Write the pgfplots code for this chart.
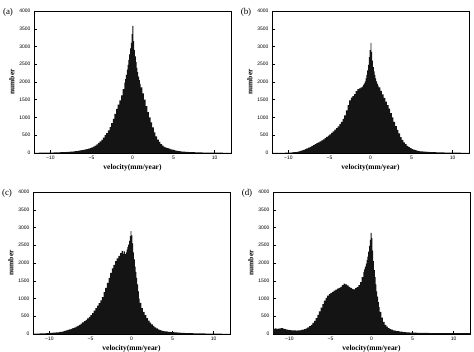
\documentclass[border=0pt]{standalone}
\usepackage{fontspec}
\setmainfont{Liberation Serif}
\setsansfont{Liberation Sans}
\usepackage{pgfplots}
\pgfplotsset{compat=1.18}
\pgfplotsset{hist/.style={
  width=197bp, height=142bp, scale only axis, clip=false,
  xmin=-12, xmax=12, ymin=0, ymax=4000,
  xtick={-10,-5,0,5,10}, xticklabels={−10,−5,0,5,10},
  ytick={0,500,...,4000},
  /pgf/number format/assume math mode=true,
  /pgf/number format/1000 sep={},
  tick align=inside, tick pos=left, major tick length=2.5bp,
  tick style={black, line width=0.5pt},
  axis line style={black, line width=0.9pt},
  tick label style={font=\fontsize{5}{5}\selectfont\sffamily},
  xlabel={velocity(mm/year)}, ylabel={number},
  label style={font=\fontsize{7.5}{8}\selectfont\bfseries},
  xlabel style={yshift=3bp},
  ylabel style={yshift=-2bp},
}}
\tikzset{hbar/.style={const plot, fill=black!92, draw=none, mark=none}}
\begin{document}
\begin{tikzpicture}
\useasboundingbox (0,0) rectangle (474bp,352bp);
% (a)
\begin{axis}[hist, at={(34bp,199bp)}, anchor=south west]
\addplot[hbar] coordinates {(-12,5) (-11.8,6) (-11.6,6) (-11.4,7) (-11.2,8) (-11,8) (-10.8,9) (-10.6,10) (-10.4,11) (-10.2,11) (-10,12) (-9.8,13) (-9.6,15) (-9.4,16) (-9.2,18) (-9,20) (-8.8,22) (-8.6,24) (-8.4,26) (-8.2,28) (-8,30) (-7.8,34) (-7.6,38) (-7.4,42) (-7.2,46) (-7,50) (-6.8,56) (-6.6,64) (-6.4,72) (-6.2,80) (-6,90) (-5.8,100) (-5.6,112) (-5.4,125) (-5.2,140) (-5,160) (-4.8,180) (-4.6,210) (-4.4,245) (-4.2,285) (-4,330) (-3.8,370) (-3.6,430) (-3.4,500) (-3.2,560) (-3,640) (-2.8,730) (-2.6,840) (-2.4,960) (-2.2,1100) (-2,1240) (-1.8,1360) (-1.6,1480) (-1.4,1620) (-1.2,1800) (-1.0,1980) (-0.9,2080) (-0.8,2200) (-0.7,2350) (-0.6,2480) (-0.5,2620) (-0.4,2780) (-0.3,2950) (-0.2,3100) (-0.1,3350) (0,3580) (0.1,3150) (0.2,2900) (0.3,2720) (0.4,2560) (0.5,2400) (0.6,2280) (0.7,2150) (0.8,2050) (0.9,1950) (1.0,1850) (1.2,1680) (1.4,1500) (1.6,1320) (1.8,1150) (2.0,1000) (2.2,860) (2.4,720) (2.6,580) (2.8,470) (3.0,380) (3.2,310) (3.4,250) (3.6,210) (3.8,175) (4.0,150) (4.2,135) (4.4,120) (4.6,105) (4.8,92) (5.0,80) (5.2,70) (5.4,60) (5.6,52) (5.8,46) (6.0,40) (6.4,34) (6.8,28) (7.2,24) (7.6,20) (8,16) (8.5,14) (9,12) (9.5,10) (10,8) (10.5,7) (11,6) (11.5,5) (12,4)} \closedcycle;
\node[font=\fontsize{9}{10}\selectfont] at (rel axis cs:0,1) [xshift=-26bp, yshift=-1bp] {(a)};
\end{axis}
% (b)
\begin{axis}[hist, at={(272bp,199bp)}, anchor=south west]
\addplot[hbar] coordinates {(-12,3) (-11.6,4) (-11.2,5) (-10.8,6) (-10.4,8) (-10,10) (-9.8,14) (-9.6,18) (-9.4,22) (-9.2,28) (-9,35) (-8.8,45) (-8.6,58) (-8.4,72) (-8.2,90) (-8,110) (-7.8,130) (-7.6,150) (-7.4,175) (-7.2,200) (-7,225) (-6.8,250) (-6.6,275) (-6.4,300) (-6.2,330) (-6,355) (-5.8,385) (-5.6,420) (-5.4,455) (-5.2,490) (-5,525) (-4.8,565) (-4.6,610) (-4.4,655) (-4.2,700) (-4,750) (-3.8,810) (-3.6,880) (-3.4,960) (-3.2,1060) (-3,1200) (-2.8,1350) (-2.6,1480) (-2.4,1560) (-2.2,1600) (-2,1660) (-1.8,1740) (-1.6,1800) (-1.4,1820) (-1.2,1850) (-1.0,1880) (-0.9,1920) (-0.8,1960) (-0.7,2020) (-0.6,2100) (-0.5,2200) (-0.4,2330) (-0.3,2480) (-0.2,2700) (-0.1,2900) (0,3100) (0.1,2850) (0.2,2600) (0.3,2420) (0.4,2300) (0.5,2200) (0.6,2100) (0.7,2020) (0.8,1950) (0.9,1900) (1.0,1850) (1.2,1750) (1.4,1650) (1.6,1550) (1.8,1450) (2.0,1350) (2.2,1250) (2.4,1120) (2.6,1000) (2.8,880) (3.0,760) (3.2,650) (3.4,550) (3.6,450) (3.8,370) (4.0,300) (4.2,250) (4.4,200) (4.6,165) (4.8,135) (5.0,110) (5.2,92) (5.4,78) (5.6,66) (5.8,56) (6.0,48) (6.4,40) (6.8,33) (7.2,28) (7.6,24) (8,20) (8.5,16) (9,13) (9.5,11) (10,9) (10.5,7) (11,6) (11.5,5) (12,4)} \closedcycle;
\node[font=\fontsize{9}{10}\selectfont] at (rel axis cs:0,1) [xshift=-26bp, yshift=-1bp] {(b)};
\end{axis}
% (c)
\begin{axis}[hist, at={(33bp,18bp)}, anchor=south west]
\addplot[hbar] coordinates {(-12,10) (-11.6,12) (-11.2,16) (-10.8,20) (-10.4,24) (-10,30) (-9.6,38) (-9.2,48) (-8.8,60) (-8.4,75) (-8.2,85) (-8,100) (-7.8,115) (-7.6,130) (-7.4,145) (-7.2,162) (-7,180) (-6.8,205) (-6.6,230) (-6.4,260) (-6.2,295) (-6,330) (-5.8,365) (-5.6,400) (-5.4,440) (-5.2,485) (-5,530) (-4.8,590) (-4.6,660) (-4.4,730) (-4.2,800) (-4,870) (-3.8,950) (-3.6,1040) (-3.4,1180) (-3.2,1300) (-3,1440) (-2.8,1580) (-2.6,1720) (-2.4,1850) (-2.2,1950) (-2,2050) (-1.8,2130) (-1.6,2200) (-1.4,2280) (-1.2,2340) (-1.0,2260) (-0.9,2330) (-0.8,2250) (-0.7,2300) (-0.6,2380) (-0.5,2450) (-0.4,2520) (-0.3,2620) (-0.2,2760) (-0.1,2900) (0,2780) (0.1,2550) (0.2,2300) (0.3,2100) (0.4,1900) (0.5,1750) (0.6,1580) (0.7,1400) (0.8,1200) (0.9,1000) (1.0,880) (1.2,730) (1.4,620) (1.6,530) (1.8,450) (2.0,380) (2.2,320) (2.4,270) (2.6,230) (2.8,190) (3.0,155) (3.2,130) (3.4,110) (3.6,95) (3.8,82) (4.0,72) (4.4,60) (4.8,50) (5.2,44) (5.6,38) (6,32) (6.5,27) (7,23) (7.5,20) (8,17) (9,13) (10,10) (11,7) (12,5)} \closedcycle;
\node[font=\fontsize{9}{10}\selectfont] at (rel axis cs:0,1) [xshift=-26bp, yshift=-1bp] {(c)};
\end{axis}
% (d)
\begin{axis}[hist, at={(273bp,18bp)}, anchor=south west]
\addplot[hbar] coordinates {(-12,140) (-11.8,155) (-11.6,145) (-11.4,150) (-11.2,160) (-11,165) (-10.8,150) (-10.6,135) (-10.4,125) (-10.2,115) (-10,110) (-9.8,105) (-9.6,100) (-9.4,100) (-9.2,98) (-9,100) (-8.8,105) (-8.6,115) (-8.4,125) (-8.2,140) (-8,160) (-7.8,190) (-7.6,220) (-7.4,260) (-7.2,310) (-7,370) (-6.8,450) (-6.6,540) (-6.4,640) (-6.2,740) (-6,840) (-5.8,940) (-5.6,1020) (-5.4,1080) (-5.2,1120) (-5,1160) (-4.8,1190) (-4.6,1220) (-4.4,1250) (-4.2,1280) (-4,1300) (-3.8,1330) (-3.6,1380) (-3.4,1420) (-3.2,1400) (-3,1370) (-2.8,1330) (-2.6,1300) (-2.4,1270) (-2.2,1260) (-2,1290) (-1.8,1320) (-1.6,1380) (-1.4,1460) (-1.2,1600) (-1.0,1750) (-0.9,1820) (-0.8,1900) (-0.7,1980) (-0.6,2080) (-0.5,2180) (-0.4,2320) (-0.3,2480) (-0.2,2650) (-0.1,2850) (0,2700) (0.1,2350) (0.2,2050) (0.3,1800) (0.4,1600) (0.5,1400) (0.6,1200) (0.7,1050) (0.8,900) (0.9,760) (1.0,620) (1.2,460) (1.4,340) (1.6,260) (1.8,205) (2.0,165) (2.2,140) (2.4,120) (2.6,105) (2.8,92) (3.0,80) (3.4,65) (3.8,55) (4.2,48) (4.6,42) (5,38) (5.5,34) (6,30) (7,28) (8,26) (9,25) (10,24) (11,22) (12,20)} \closedcycle;
\node[font=\fontsize{9}{10}\selectfont] at (rel axis cs:0,1) [xshift=-26bp, yshift=-1bp] {(d)};
\end{axis}
\end{tikzpicture}
\end{document}
